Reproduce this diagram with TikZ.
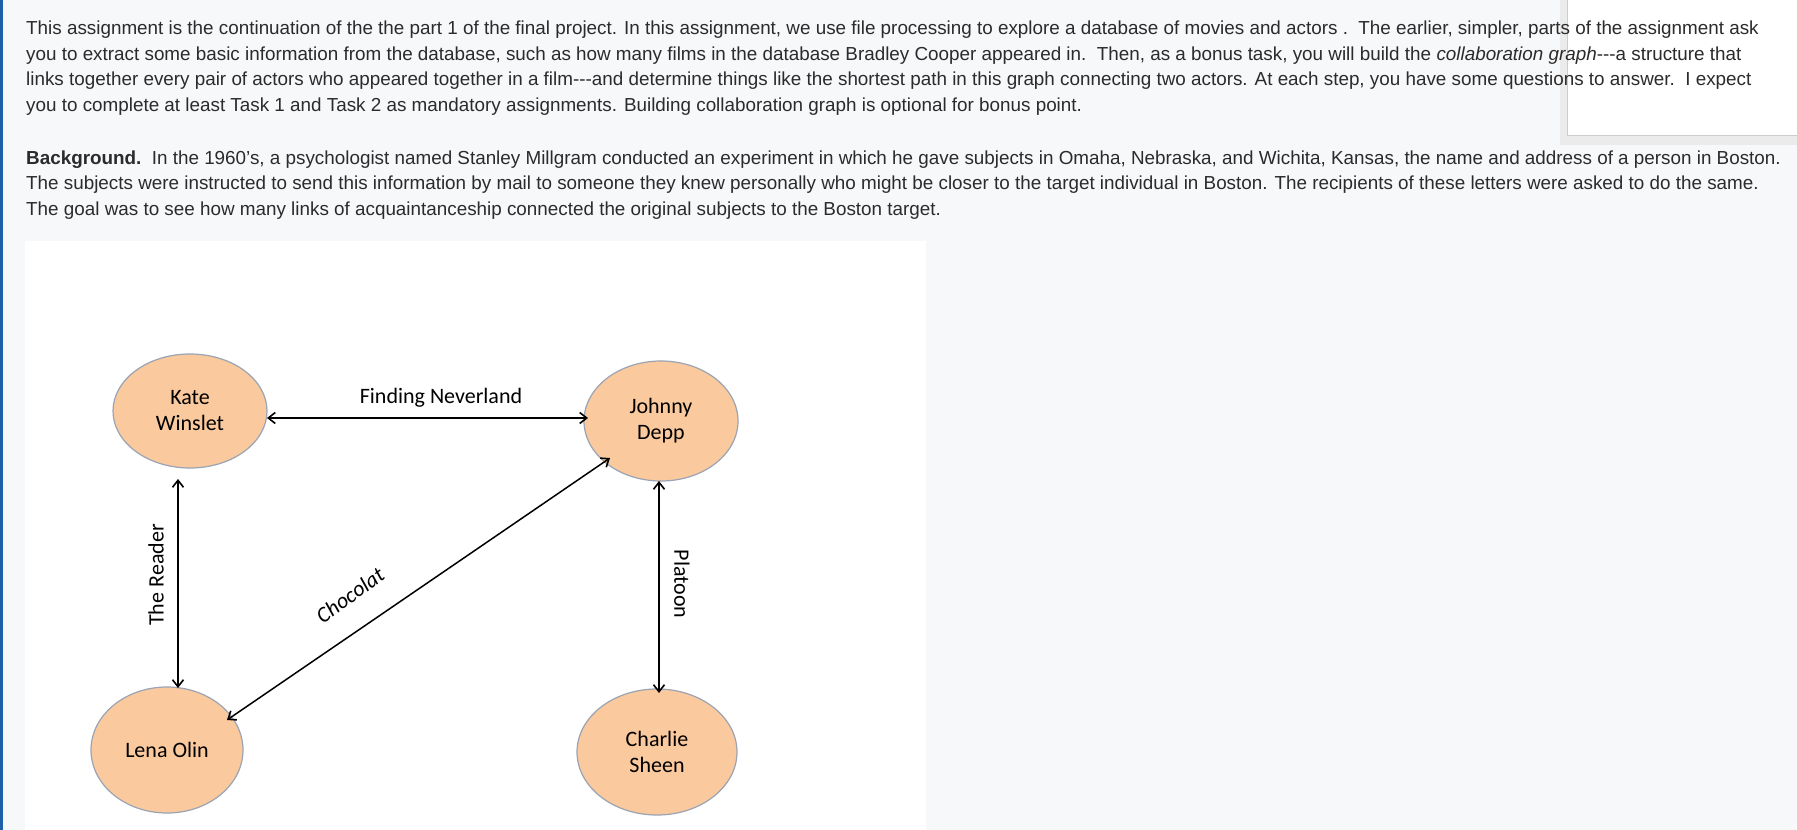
\documentclass[tikz,border=0pt]{standalone}
\usepackage{fontspec}
\setmainfont{Liberation Sans}
\newfontfamily\calfont{Carlito}
\usetikzlibrary{arrows.meta,shapes.geometric}
\definecolor{bg}{HTML}{F7F8FA}
\definecolor{txt}{HTML}{2B2B2B}
\definecolor{nfill}{HTML}{FAC99D}
\definecolor{nline}{HTML}{9BA4B4}
\definecolor{bar}{HTML}{1F5FA8}
\tikzset{
  para/.style={anchor=west,inner sep=0,text=txt,font=\fontsize{18.85}{20}\selectfont},
  actor/.style={ellipse,draw=nline,line width=1.2pt,fill=nfill,align=center,font=\calfont\fontsize{22}{26}\selectfont,text=black},
  link/.style={{Straight Barb[length=7pt,width=11pt,line width=1.6pt]}-{Straight Barb[length=7pt,width=11pt,line width=1.6pt]},line width=1.5pt,black},
  lbl/.style={font=\calfont\fontsize{22}{24}\selectfont,text=black,inner sep=0}
}
\begin{document}
\begin{tikzpicture}[x=1pt,y=-1pt]
\useasboundingbox (0,0) rectangle (1797,830);
\fill[bg] (0,0) rectangle (1797,830);
\fill[bar] (0,0) rectangle (3,830);
\fill[black!18] (1563,0) rectangle (1797,141);
\fill[black!8] (1560,0) rectangle (1797,145);
\fill[white] (1567,0) rectangle (1797,135);
\draw[black!20] (1567,0) -- (1567,135) -- (1797,135);
\node[para] (p1) at (26,30) {This assignment is the continuation of the the part 1 of the final project. In this assignment, we use file processing to explore a database of movies and actors .\ \ The earlier, simpler, parts of the assignment ask};
\node[para] (p2) at (26,56) {you to extract some basic information from the database, such as how many films in the database Bradley Cooper appeared in.\ \ Then, as a bonus task, you will build the \textit{collaboration graph}-{}-{}-a structure that};
\node[para] (p3) at (26,81) {links together every pair of actors who appeared together in a film-{}-{}-and determine things like the shortest path in this graph connecting two actors. At each step, you have some questions to answer.\ \ I expect};
\node[para] (p4) at (26,107) {you to complete at least Task 1 and Task 2 as mandatory assignments. Building collaboration graph is optional for bonus point.};
\node[para] (b1) at (26,160) {\textbf{Background.}\ \ In the 1960's, a psychologist named Stanley Millgram conducted an experiment in which he gave subjects in Omaha, Nebraska, and Wichita, Kansas, the name and address of a person in Boston.};
\node[para] (b2) at (26,185) {The subjects were instructed to send this information by mail to someone they knew personally who might be closer to the target individual in Boston. The recipients of these letters were asked to do the same.};
\node[para] (b3) at (26,211) {The goal was to see how many links of acquaintanceship connected the original subjects to the Boston target.};
\fill[white] (25,241) rectangle (926,830);
\node[actor,minimum width=154,minimum height=114] (kate) at (190,411) {Kate\\Winslet};
\node[actor,minimum width=154,minimum height=120] (johnny) at (661,421) {Johnny\\Depp};
\node[actor,minimum width=152,minimum height=126] (lena) at (167,750) {Lena Olin};
\node[actor,minimum width=160,minimum height=126] (charlie) at (657,752) {Charlie\\Sheen};
\coordinate (k1) at (267,418); \coordinate (j1) at (588,418);
\coordinate (k2) at (178,479); \coordinate (l2) at (178,688);
\coordinate (j3) at (610,458); \coordinate (l3) at (227,720);
\coordinate (j4) at (659,481); \coordinate (c4) at (659,693);
\draw[link] (k1) -- (j1);
\draw[link] (k2) -- (l2);
\draw[link] (j3) -- (l3);
\draw[link] (j4) -- (c4);
\node[lbl] (t1) at (441,398) {Finding Neverland};
\node[lbl,rotate=90] (t2) at (156,575) {The Reader};
\node[lbl,rotate=36] (t3) at (350,595) {\itshape Chocolat};
\node[lbl,rotate=-90] (t4) at (682,584) {Platoon};
\end{tikzpicture}
\end{document}
